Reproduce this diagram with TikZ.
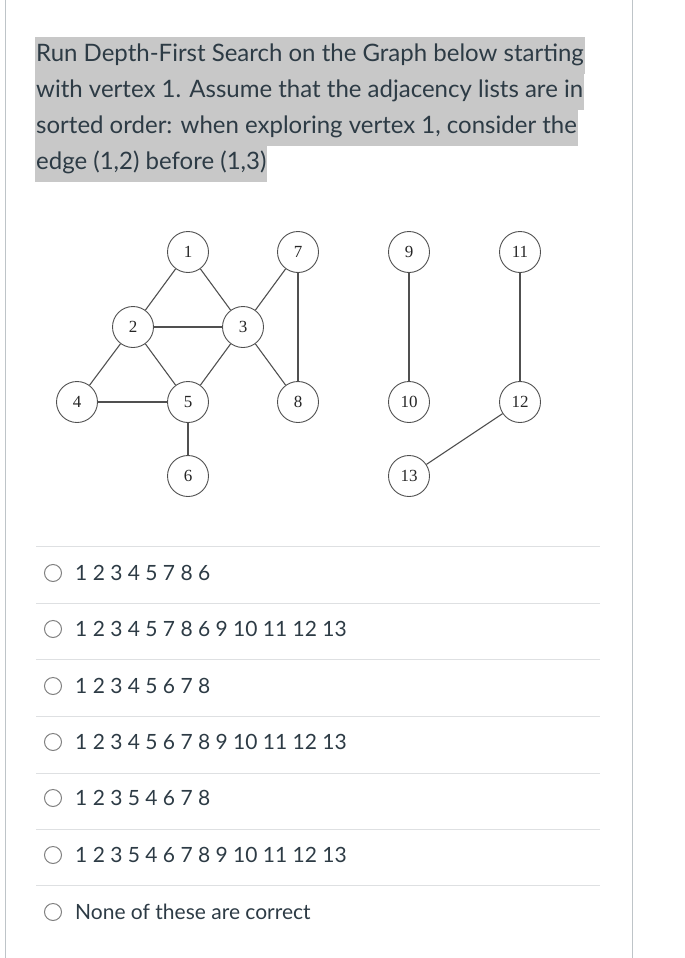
\documentclass[tikz,border=0pt]{standalone}
\usepackage{fontspec}
\setmainfont{Lato}
\newfontfamily\vertexfont{Liberation Serif}
\usetikzlibrary{positioning}

\definecolor{canvastext}{RGB}{45,59,69}
\definecolor{hilite}{RGB}{200,200,200}
\definecolor{framegray}{RGB}{190,196,200}
\definecolor{sepgray}{RGB}{222,224,226}
\definecolor{edgegray}{RGB}{80,80,80}

\tikzset{
  vertex/.style={circle, draw=edgegray, line width=0.9pt, minimum size=41pt, inner sep=0pt,
    font=\vertexfont\fontsize{17}{17}\selectfont, text=black!85},
  edge/.style={draw=edgegray, line width=1.1pt},
  qline/.style={anchor=west, fill=hilite, inner xsep=1pt, inner ysep=0pt, minimum height=36pt,
    text height=17pt, text depth=5pt, font=\fontsize{24}{36}\selectfont, text=canvastext},
  radio/.style={circle, draw=gray, line width=1pt, minimum size=17pt, inner sep=0pt},
  answer/.style={anchor=west, inner sep=0pt, font=\fontsize{21}{24}\selectfont, text=canvastext},
  sepline/.style={draw=sepgray, line width=1pt}
}

\begin{document}
\begin{tikzpicture}[x=1pt,y=-1pt]
    \useasboundingbox (0,0) rectangle (685,958);

    % page frame
    \draw[framegray, line width=1pt] (5,0) -- (5,958);
    \draw[framegray, line width=1pt] (632,0) -- (632,958);

    % question text, highlighted line by line
    \node[qline] (q1) at (35,55.5) {Run Depth-First Search on the Graph below starting};
    \node[qline] (q2) at (35,91.5) {with vertex 1. Assume that the adjacency lists are in};
    \node[qline] (q3) at (35,127.5) {sorted order: when exploring vertex 1, consider the};
    \node[qline] (q4) at (35,163.5) {edge (1,2) before (1,3)};

    % graph vertices
    \node[vertex] (v1) at (188,252) {1};
    \node[vertex] (v7) at (298,252) {7};
    \node[vertex] (v9) at (409,252) {9};
    \node[vertex] (v11) at (520,252) {11};
    \node[vertex] (v2) at (133,327) {2};
    \node[vertex] (v3) at (243,327) {3};
    \node[vertex] (v4) at (77,402) {4};
    \node[vertex] (v5) at (188,402) {5};
    \node[vertex] (v8) at (298,402) {8};
    \node[vertex] (v10) at (409,402) {10};
    \node[vertex] (v12) at (520,402) {12};
    \node[vertex] (v6) at (188,476) {6};
    \node[vertex] (v13) at (409,476) {13};

    % graph edges
    \foreach \a/\b in {1/2, 1/3, 2/3, 2/4, 2/5, 3/5, 3/7, 3/8, 7/8, 4/5, 5/6, 9/10, 11/12, 12/13}
        \draw[edge] (v\a) -- (v\b);

    % answer separators
    \foreach \y in {546,603,659,716,773,829,885}
        \draw[sepline] (36,\y) -- (600,\y);

    % answer choices
    \node[radio] (r1) at (53,573) {};
    \node[answer, right=13pt of r1] (a1) {1 2 3 4 5 7 8 6};
    \node[radio] (r2) at (53,629) {};
    \node[answer, right=13pt of r2] (a2) {1 2 3 4 5 7 8 6 9 10 11 12 13};
    \node[radio] (r3) at (53,686) {};
    \node[answer, right=13pt of r3] (a3) {1 2 3 4 5 6 7 8};
    \node[radio] (r4) at (53,742) {};
    \node[answer, right=13pt of r4] (a4) {1 2 3 4 5 6 7 8 9 10 11 12 13};
    \node[radio] (r5) at (53,798) {};
    \node[answer, right=13pt of r5] (a5) {1 2 3 5 4 6 7 8};
    \node[radio] (r6) at (53,855) {};
    \node[answer, right=13pt of r6] (a6) {1 2 3 5 4 6 7 8 9 10 11 12 13};
    \node[radio] (r7) at (53,912) {};
    \node[answer, right=13pt of r7] (a7) {None of these are correct};
\end{tikzpicture}
\end{document}
